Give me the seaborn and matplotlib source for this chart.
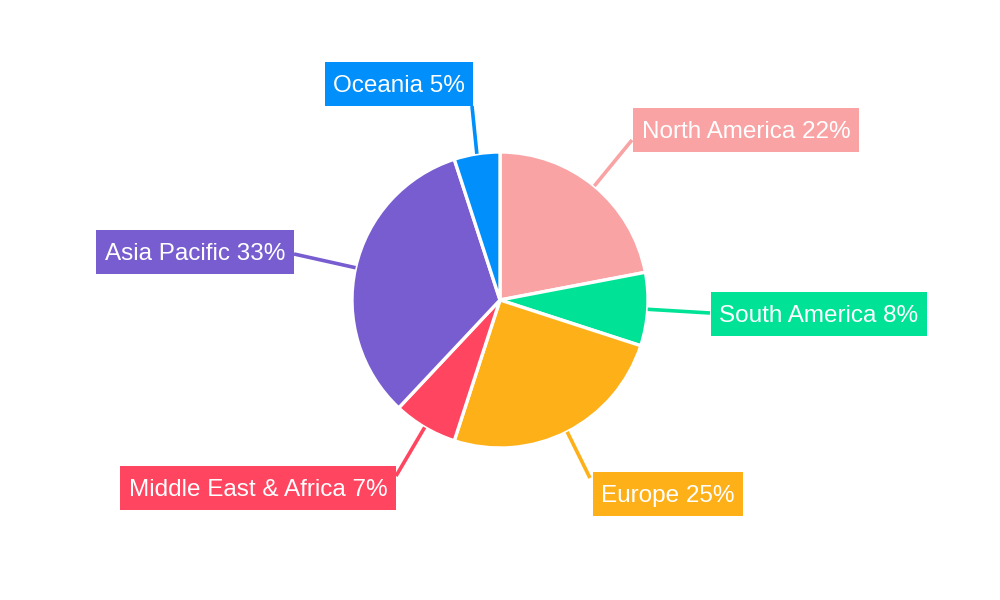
import numpy as np
import matplotlib
matplotlib.use("Agg")
import matplotlib.pyplot as plt
from matplotlib.patches import Rectangle
import seaborn as sns

regions = ["North America", "South America", "Europe", "Middle East & Africa", "Asia Pacific", "Oceania"]
shares = [22, 8, 25, 7, 33, 5]
colors = ["#F9A3A4", "#00E396", "#FEB019", "#FF4560", "#775DD0", "#008FFB"]

# label box centres (pixel coords, y measured from top) and leader line end points
label_pos = [(746, 130), (819, 314), (668, 494), (258, 488), (195, 252), (399, 84)]
line_end = [(632, 140), (710, 313), (590, 478), (396, 476), (294, 254), (472, 106)]

sns.set_theme(style="white")
plt.rcParams["font.family"] = ["Liberation Sans", "DejaVu Sans"]

W, H = 1000, 600
fig = plt.figure(figsize=(10, 6), dpi=100)
ax = fig.add_axes([0, 0, 1, 1])

cx, cy, r = 500, 300, 148
wedges, _ = ax.pie(shares, colors=colors, startangle=90, counterclock=False,
                   center=(cx, H - cy), radius=r, frame=True,
                   wedgeprops=dict(edgecolor="white", linewidth=2.4))
ax.set_xlim(0, W)
ax.set_ylim(0, H)
ax.set_aspect("equal")
ax.axis("off")

texts = []
for w, name, val, col, (lx, ly), (ex, ey) in zip(wedges, regions, shares, colors, label_pos, line_end):
    mid = np.deg2rad((w.theta1 + w.theta2) / 2)
    sx, sy = cx + r * np.cos(mid), (H - cy) + r * np.sin(mid)
    ax.plot([sx, ex], [sy, H - ey], color=col, lw=2.6, solid_capstyle="butt", zorder=1)
    t = ax.text(lx, H - ly - 2, f"{name} {val}%", ha="center", va="center", color="white",
                fontsize=17.5, zorder=4)
    texts.append((t, col, lx, ly))

fig.canvas.draw()
renderer = fig.canvas.get_renderer()
for t, col, lx, ly in texts:
    bb = t.get_window_extent(renderer)
    bw = bb.width + 17
    bh = 44
    ax.add_patch(Rectangle((lx - bw / 2, H - ly - bh / 2), bw, bh, facecolor=col,
                           edgecolor="none", zorder=3))

fig.savefig("out.png", dpi=100, facecolor="white")
